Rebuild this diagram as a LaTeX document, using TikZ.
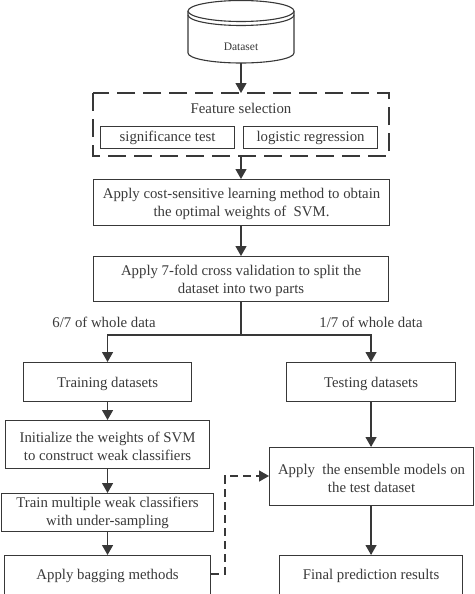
\documentclass[tikz,border=0pt]{standalone}
\usepackage{fontspec}
\setmainfont{Liberation Serif}
\usetikzlibrary{arrows.meta}
\definecolor{ink}{HTML}{383838}
\definecolor{txt}{HTML}{3A3A3A}
\tikzset{
  x=1pt,y=-1pt,
  box/.style={draw=ink,line width=1.1pt,fill=white,align=center,text=txt,font=\fontsize{14.8}{17.8}\selectfont,inner sep=0pt,anchor=north west},
  lbl/.style={text=txt,font=\fontsize{14.8}{17.8}\selectfont,inner sep=0pt},
  conn/.style={draw=ink,line width=1.3pt,-{Triangle[length=10pt,width=11pt]}},
  plainconn/.style={draw=ink,line width=1.3pt},
  dconn/.style={draw=ink,line width=1.3pt,dash pattern=on 8pt off 5pt,-{Triangle[length=10pt,width=11pt]}},
}
\newcommand{\bx}[6]{\node[box,minimum width=#4pt-#2pt,minimum height=#5pt-#3pt] (#1) at (#2,#3) {#6};}
\newcommand{\dn}{\rule{0pt}{13.5pt}}
\begin{document}
\begin{tikzpicture}
\useasboundingbox (0,0) rectangle (474,594);
\fill[white] (0,0) rectangle (474,594);
% dataset cylinder
\draw[ink,line width=1.1pt,fill=white] (188,11) -- (188,53) arc[start angle=180,end angle=360,x radius=53,y radius=-10] -- (294,11);
\draw[ink,line width=1.1pt,fill=white] (241,11) ellipse[x radius=53,y radius=10.5];
\draw[ink,line width=1.1pt] (188,15) arc[start angle=180,end angle=360,x radius=53,y radius=-10.5];
\node[lbl,font=\fontsize{11.5}{13}\selectfont] (ds) at (241,47) {Dataset};
\coordinate (dsb) at (241,63);
% feature selection
\draw[ink,line width=1.05pt,dash pattern=on 18pt off 8pt] (93,93) rectangle (389,156);
\coordinate (fst) at (241,93);
\coordinate (fsb) at (241,156);
\node[lbl] (fs) at (241,108) {Feature selection};
\bx{sig}{100}{126}{234}{148}{significance test}
\bx{log}{243}{126}{377}{148}{logistic regression}
\bx{cost}{93}{179}{389}{225}{\dn Apply cost-sensitive learning method to obtain\\the optimal weights of~ SVM.}
\bx{fold}{93}{256}{388}{301}{\dn Apply 7-fold cross validation to split the\\dataset into two parts}
\node[lbl] (l6) at (104,322) {6/7 of whole data};
\node[lbl] (l1) at (371,322) {1/7 of whole data};
\bx{train}{23}{362}{191}{401}{\dn Training datasets}
\bx{test}{286}{362}{455}{401}{\dn Testing datasets}
\bx{init}{5}{420}{209}{468}{\dn Initialize the weights of SVM\\to construct weak classifiers}
\bx{multi}{1}{493}{213}{531}{Train multiple weak classifiers\\with under-sampling}
\bx{bag}{4}{555}{210}{593.5}{\dn Apply bagging methods}
\bx{ens}{269}{447}{473}{505}{\dn Apply~ the ensemble models on\\the test dataset}
\bx{final}{279}{555}{462}{593.5}{\dn Final prediction results}
\coordinate (split) at (241,335);
\draw[conn] (dsb) -- (fst);
\draw[conn] (fsb) -- (cost.north -| fsb);
\draw[conn] (cost.south -| fsb) -- (fold.north -| fsb);
\draw[plainconn] (fold.south -| split) -- (split);
\draw[conn] (split) -| (train.north);
\draw[conn] (split) -| (test.north);
\draw[conn] (train) -- (init.north -| train);
\draw[conn] (init.south -| train) -- (multi.north -| train);
\draw[conn] (multi.south -| train) -- (bag.north -| train);
\draw[conn] (test) -- (ens.north -| test);
\draw[conn] (ens.south -| test) -- (final.north -| test);
\coordinate (bend1) at (225,574);
\coordinate (bend2) at (225,476);
\draw[dconn] (bag.east |- bend1) -- (bend1) -- (bend2) -- (ens.west |- bend2);
\end{tikzpicture}
\end{document}
